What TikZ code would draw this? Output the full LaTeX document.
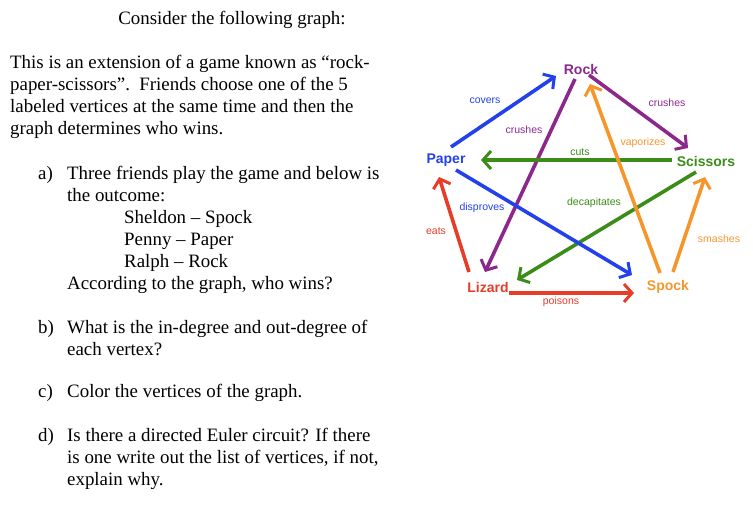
\documentclass[tikz,border=0pt]{standalone}
\usepackage{fontspec}
\setmainfont{Liberation Serif}
\setsansfont{Liberation Sans}
\usetikzlibrary{arrows.meta}
\definecolor{cb}{RGB}{35,65,235}
\definecolor{cp}{RGB}{140,40,140}
\definecolor{cg}{RGB}{60,140,25}
\definecolor{co}{RGB}{245,150,45}
\definecolor{cr}{RGB}{230,60,40}
\tikzset{
 txt/.style={anchor=base west,inner sep=0pt,font=\fontsize{18.9}{22}\selectfont},
 vx/.style={font=\sffamily\bfseries\fontsize{14}{16}\selectfont,inner sep=1pt},
 lb/.style={font=\sffamily\fontsize{10.5}{12}\selectfont,inner sep=0pt},
 ar/.style={line width=3.6pt,-{Straight Barb[length=8pt,width=18pt,line width=3pt]}}
}
\begin{document}
\begin{tikzpicture}[x=1pt,y=-1pt]
\useasboundingbox (0,0) rectangle (753,514);
\node[anchor=base,inner sep=0pt,font=\fontsize{18.9}{22}\selectfont] (t0) at (232,24) {Consider the following graph:};
\node[txt] (t1) at (10,68) {This is an extension of a game known as ``rock-};
\node[txt] (t2) at (10,90) {paper-scissors''.\ \ Friends choose one of the 5};
\node[txt] (t3) at (10,112) {labeled vertices at the same time and then the};
\node[txt] (t4) at (10,134) {graph determines who wins.};
\node[txt] (a0) at (38,179) {a)};
\node[txt] (a1) at (67,179) {Three friends play the game and below is};
\node[txt] (a2) at (67,201) {the outcome:};
\node[txt] (a3) at (124,223) {Sheldon -- Spock};
\node[txt] (a4) at (124,245) {Penny -- Paper};
\node[txt] (a5) at (124,267) {Ralph -- Rock};
\node[txt] (a6) at (67,289) {According to the graph, who wins?};
\node[txt] (b0) at (38,333) {b)};
\node[txt] (b1) at (67,333) {What is the in-degree and out-degree of};
\node[txt] (b2) at (67,355) {each vertex?};
\node[txt] (c0) at (38,397) {c)};
\node[txt] (c1) at (67,397) {Color the vertices of the graph.};
\node[txt] (d0) at (38,441) {d)};
\node[txt] (d1) at (67,441) {Is there a directed Euler circuit? If there};
\node[txt] (d2) at (67,463) {is one write out the list of vertices, if not,};
\node[txt] (d3) at (67,485) {explain why.};

\node[vx,text=cp] (R) at (581,69) {Rock};
\node[vx,text=cb] (P) at (446,160) {Paper};
\node[vx,text=cg] (S) at (706,161) {Scissors};
\node[vx,text=cr] (L) at (488,287) {Lizard};
\node[vx,text=co] (K) at (668,287) {Spock};

\draw[ar,cb] ([shift={(5,-13)}]P.center) -- ([shift={(-25,7)}]R.center);
\draw[ar,cp] ([shift={(8,6)}]R.center) -- ([shift={(-18,-13)}]S.center);
\draw[ar,cp] ([shift={(-6,10)}]R.center) -- ([shift={(-3,-15)}]L.center);
\draw[ar,cg] ([shift={(-34,-1)}]S.center) -- ([shift={(35,0)}]P.center);
\draw[ar,cg] ([shift={(-10,11)}]S.center) -- ([shift={(29,-7)}]L.center);
\draw[ar,co] ([shift={(-8,-14)}]K.center) -- ([shift={(9,15)}]R.center);
\draw[ar,co] ([shift={(5,-15)}]K.center) -- ([shift={(-1,16)}]S.center);
\draw[ar,cb] ([shift={(10,10)}]P.center) -- ([shift={(-36,-12)}]K.center);
\draw[ar,cr] ([shift={(-19,-15)}]L.center) -- ([shift={(-7,17)}]P.center);
\draw[ar,cr] ([shift={(21,6)}]L.center) -- ([shift={(-34,6)}]K.center);

\node[lb,text=cb] (l1) at (485,101) {covers};
\node[lb,text=cp] (l2) at (667,103) {crushes};
\node[lb,text=cp] (l3) at (524,130) {crushes};
\node[lb,text=cg] (l4) at (580,152) {cuts};
\node[lb,text=cg] (l5) at (594,203) {decapitates};
\node[lb,text=co] (l6) at (643,143) {vaporizes};
\node[lb,text=co] (l7) at (719,239) {smashes};
\node[lb,text=cb] (l8) at (482,208) {disproves};
\node[lb,text=cr] (l9) at (436,231) {eats};
\node[lb,text=cr] (l10) at (561,302) {poisons};
\end{tikzpicture}
\end{document}
